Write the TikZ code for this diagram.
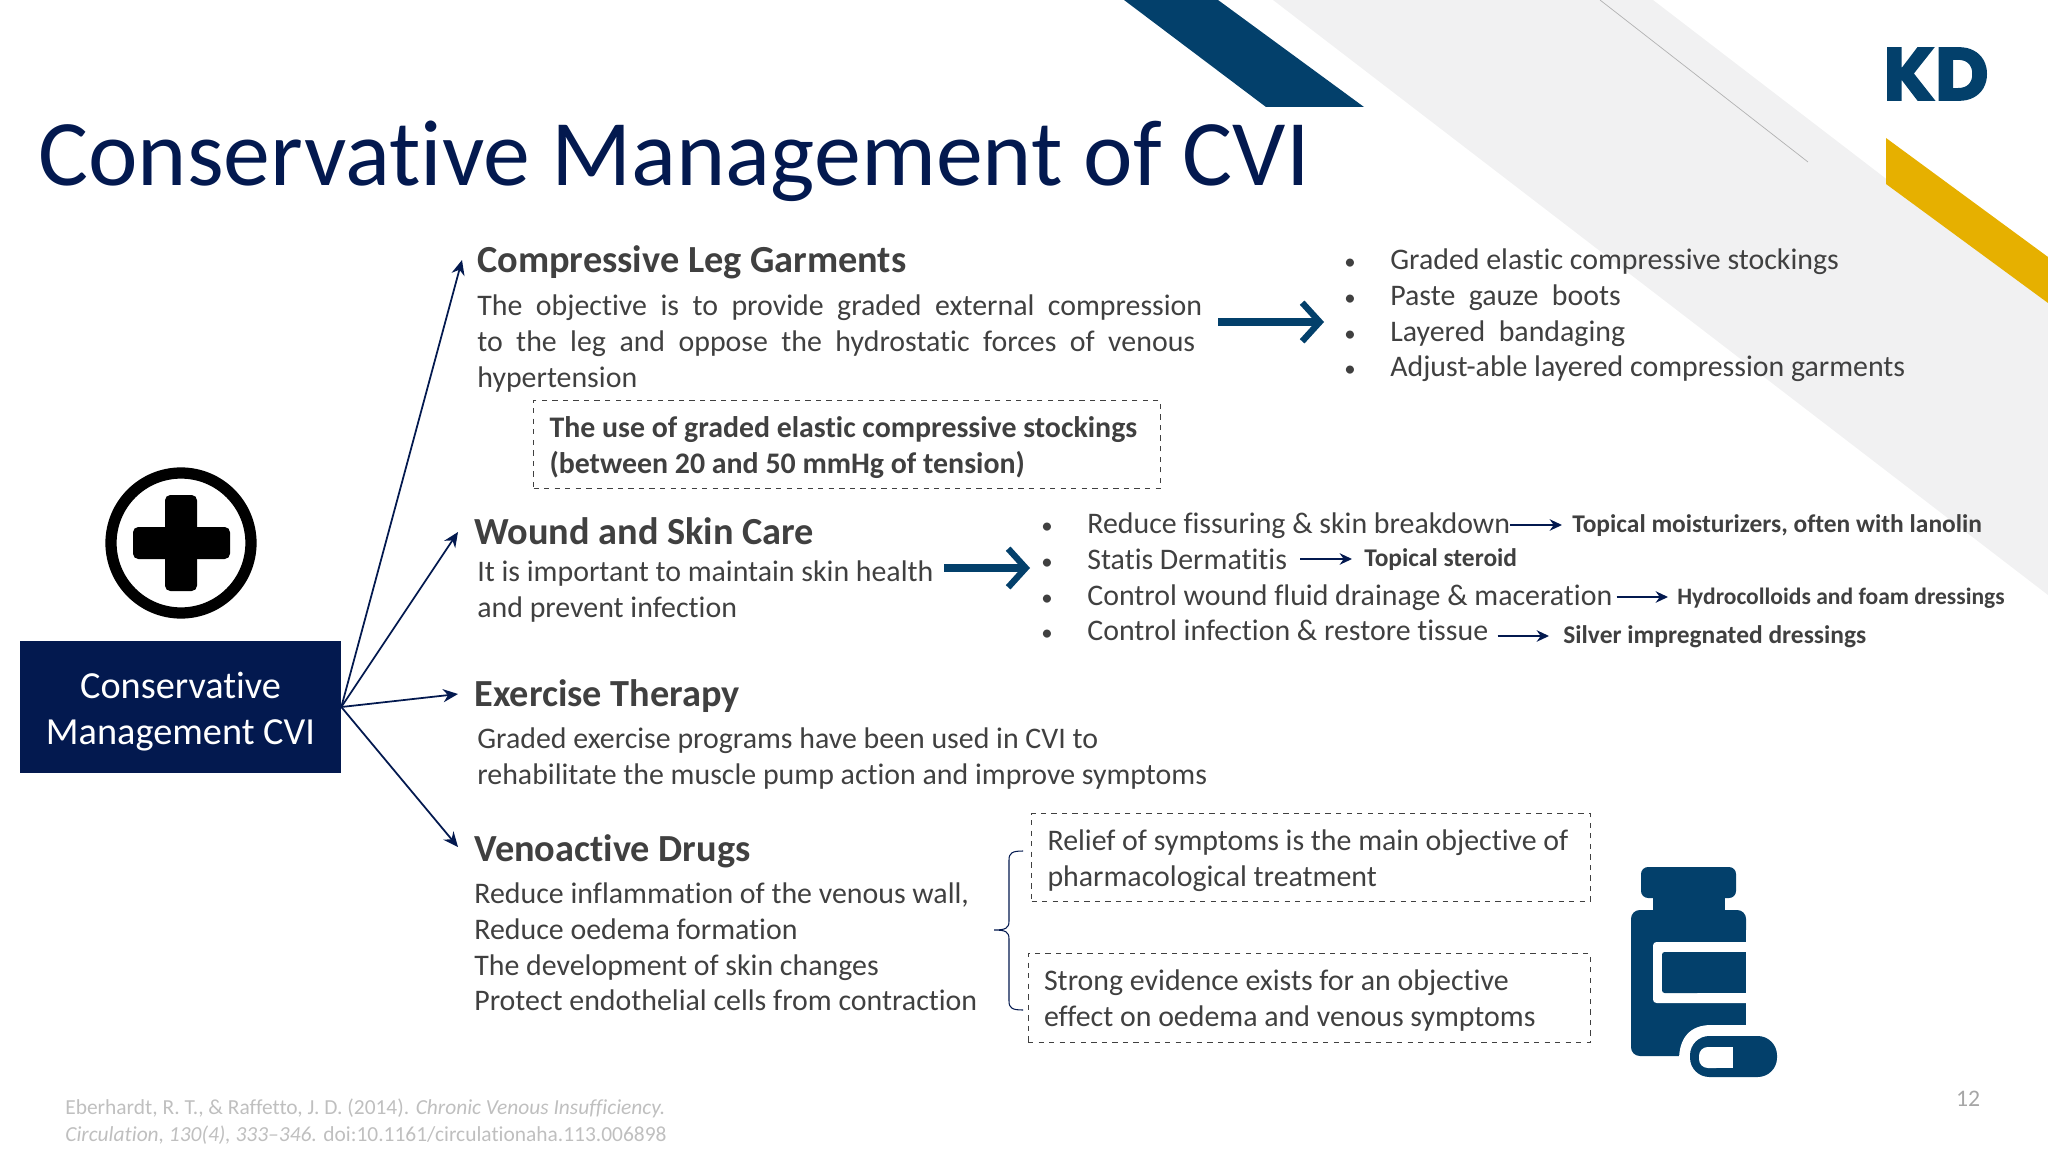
\documentclass[tikz,border=0pt]{standalone}
\usepackage{fontspec}
\setmainfont[Ligatures=NoCommon]{Carlito}
\newfontfamily\logofont[BoldFeatures={FakeBold=2.6}]{Poppins}
\usetikzlibrary{arrows.meta}

\definecolor{navy}{HTML}{03194F}
\definecolor{steel}{HTML}{03406B}
\definecolor{gold}{HTML}{E6B000}
\definecolor{band}{HTML}{F1F1F2}
\definecolor{ink}{HTML}{404040}
\definecolor{faint}{HTML}{BFBFBF}

\newcommand{\spreadline}[2]{\makebox[#1][s]{#2}}
\newcommand{\dotrow}[1]{\makebox[0.92cm][l]{\fontsize{13}{13}\selectfont\textbullet}#1}
\newcommand{\boxlead}{\rule{0pt}{15pt}}

\tikzset{
    slidetitle/.style={anchor=base west, inner sep=0pt, text=navy, font=\fontsize{53.4}{60}\selectfont},
    heading/.style={anchor=west, inner sep=0pt, text=ink, text height=14pt, text depth=4pt, font=\fontsize{21.8}{26}\selectfont\bfseries},
    bodytext/.style={anchor=north west, inner sep=0pt, align=left, text=ink, font=\fontsize{17}{20.4}\selectfont},
    itemtext/.style={anchor=west, inner sep=0pt, text=ink, text height=14pt, text depth=4pt, font=\fontsize{17}{20.4}\selectfont},
    treattext/.style={anchor=west, inner sep=0pt, text=ink, text height=12pt, text depth=4pt, font=\fontsize{14.5}{16}\selectfont\bfseries},
    dashbox/.style={draw=ink, dashed, line width=0.6pt, anchor=north west, inner xsep=0.32cm, inner ysep=0pt, align=flush left, text=ink, font=\fontsize{17}{20.4}\selectfont},
    fanarrow/.style={draw=navy, line width=1pt, -{Stealth[length=8.5pt,width=7.5pt]}},
    smallarrow/.style={draw=navy, line width=1.2pt, -{Stealth[length=7pt,width=6.5pt]}},
    bigarrow/.style={draw=steel, line width=4.4pt, -{Straight Barb[length=10pt,width=22pt,line width=3.6pt]}},
}

\begin{document}
\begin{tikzpicture}[x=0.02cm, y=-0.02cm]
    \useasboundingbox (0,0) rectangle (2048,1152);

    \fill[band] (1273,0) -- (1653,0) -- (2048,303) -- (2048,595) -- cycle;
    \fill[steel] (1124,0) -- (1218,0) -- (1364,107) -- (1266,107) -- cycle;
    \fill[gold] (1886,138) -- (2048,257) -- (2048,303) -- (1886,184) -- cycle;
    \draw[gray!60, line width=0.4pt] (1600,0) -- (1808,162);

    \node[inner sep=0pt, text=steel, font=\logofont\fontsize{42}{42}\selectfont\bfseries] (logo) at (1936,74) {KD};
    \node[slidetitle] (title) at (38,186) {Conservative Management of CVI};

    \node[draw=black, line width=6.4pt, circle, minimum size=2.8cm, inner sep=0pt] (cross) at (181,543) {};
    \fill[black, rounded corners=3pt] (165,495) rectangle (197,591);
    \fill[black, rounded corners=3pt] (133,527) rectangle (230,559);

    \node[fill=navy, minimum width=6.42cm, minimum height=2.64cm, inner sep=0pt, align=center, text=white,
          font=\fontsize{21.8}{26}\selectfont] (root) at (180.5,707) {\rule{0pt}{20pt}Conservative\\Management CVI};

    \node[heading] (compress) at (477,264) {Compressive Leg Garments};
    \node[heading] (wound) at (474,536) {Wound and Skin Care};
    \node[heading] (exercise) at (474,698) {Exercise Therapy};
    \node[heading] (drugs) at (474,853) {Venoactive Drugs};

    \draw[fanarrow] (root.east) -- ([xshift=-0.3cm,yshift=0.08cm]compress.west);
    \draw[fanarrow] (root.east) -- ([xshift=-0.32cm,yshift=0.08cm]wound.west);
    \draw[fanarrow] (root.east) -- ([xshift=-0.32cm,yshift=0.08cm]exercise.west);
    \draw[fanarrow] (root.east) -- ([xshift=-0.32cm,yshift=0.12cm]drugs.west);

    \node[bodytext] (compresstext) at (477,290) {\strut\spreadline{14.5cm}{The objective is to provide graded external compression}\\
        \spreadline{14.36cm}{to the leg and oppose the hydrostatic forces of venous}\\hypertension};
    \node[dashbox, text width=11.9cm, minimum height=1.76cm, font=\fontsize{17}{20.4}\selectfont\bfseries] (stockingbox) at (533,400)
        {\boxlead\mbox{The use of graded elastic compressive stockings}\\\mbox{(between 20 and 50 mmHg of tension)}};
    \node[bodytext] (garments) at (1344,244) {\strut\dotrow{Graded elastic compressive stockings}\\
        \dotrow{Paste\ \ gauze\ \ boots}\\
        \dotrow{Layered\ \ bandaging}\\
        \dotrow{Adjust-able layered compression garments}};
    \coordinate (garmentstart) at (1218,322);
    \draw[bigarrow, shorten >=0.4cm] (garmentstart) -- (garments.west |- garmentstart);

    \node[bodytext] (woundtext) at (477,556) {\strut It is important to maintain skin health\\and prevent infection};

    \node[itemtext] (item1) at (1041,525) {\dotrow{Reduce fissuring \& skin breakdown}};
    \node[itemtext] (item2) at (1041,561) {\dotrow{Statis Dermatitis}};
    \node[itemtext] (item3) at (1041,597) {\dotrow{Control wound fluid drainage \& maceration}};
    \node[itemtext] (item4) at (1041,632) {\dotrow{Control infection \& restore tissue}};

    \node[treattext] (treat1) at (1572,525) {Topical moisturizers, often with lanolin};
    \node[treattext] (treat2) at (1364,559) {Topical steroid};
    \node[treattext, font=\fontsize{13.4}{16}\selectfont\bfseries] (treat3) at (1677,597) {Hydrocolloids and foam dressings};
    \node[treattext] (treat4) at (1563,636) {Silver impregnated dressings};

    \draw[smallarrow, shorten >=0.2cm] (item1.east |- treat1.west) -- (treat1.west);
    \draw[smallarrow, shorten <=0.26cm, shorten >=0.24cm] (item2.east |- treat2.west) -- (treat2.west);
    \draw[smallarrow, shorten <=0.08cm, shorten >=0.18cm] (item3.east |- treat3.west) -- (treat3.west);
    \draw[smallarrow, shorten <=0.18cm, shorten >=0.28cm] (item4.east |- treat4.west) -- (treat4.west);

    \coordinate (woundstart) at (944,568);
    \draw[bigarrow, shorten >=0.22cm] (woundstart) -- (item1.west |- woundstart);

    \node[bodytext] (exercisetext) at (477,723) {\strut Graded exercise programs have been used in CVI to\\
        rehabilitate the muscle pump action and improve symptoms};

    \node[bodytext] (drugstext) at (474,878) {\strut Reduce inflammation of the venous wall,\\
        Reduce oedema formation\\
        The development of skin changes\\
        Protect endothelial cells from contraction};

    \node[dashbox, text width=10.54cm, minimum height=1.76cm] (reliefbox) at (1031,813)
        {\boxlead\mbox{Relief of symptoms is the main objective of}\\\mbox{pharmacological treatment}};
    \node[dashbox, text width=10.61cm, minimum height=1.78cm] (evidencebox) at (1027.5,953)
        {\boxlead\mbox{Strong evidence exists for an objective}\\\mbox{effect on oedema and venous symptoms}};

    \coordinate (bracehigh) at (1023,851);
    \coordinate (braceside) at (994,930);
    \coordinate (bracelow) at (1023,1010);
    \draw[navy, line width=0.6pt] (bracehigh) .. controls (1012,851) and (1009,853) .. (1009,860) -- (1009,921)
        .. controls (1009,928) and (1006,930) .. (braceside) .. controls (1006,930) and (1009,932) .. (1009,939)
        -- (1009,1001) .. controls (1009,1008) and (1012,1010) .. (bracelow);

    \fill[steel, rounded corners=4pt] (1641,867) rectangle (1736,898);
    \fill[steel] (1653,895) rectangle (1725,912);
    \fill[steel, rounded corners=5pt] (1631,910) rectangle (1746,1056);
    \fill[white] (1679,1060) .. controls (1679,1038) and (1690,1025) .. (1711,1025) -- (1750,1025) -- (1750,1060) -- cycle;
    \fill[white, rounded corners=2pt] (1653,942) rectangle (1760,1003);
    \fill[white] (1746,930) rectangle (1760,1030);
    \fill[steel, rounded corners=1.5pt] (1662,952) rectangle (1700,993);
    \fill[steel] (1680,952) rectangle (1746,993);
    \fill[steel, rounded corners=11pt] (1690,1036) rectangle (1777,1077);
    \fill[white, rounded corners=5pt] (1699,1047) rectangle (1725,1068);
    \fill[white] (1712,1047) rectangle (1733,1068);

    \node[anchor=north west, inner sep=0pt, align=left, text=faint, font=\fontsize{12.2}{15}\selectfont] (source) at (65,1096)
        {\strut Eberhardt, R. T., \& Raffetto, J. D. (2014). \textit{Chronic Venous Insufficiency.}\\
        \textit{Circulation, 130(4), 333--346.} doi:10.1161/circulationaha.113.006898};
    \node[inner sep=0pt, text=gray!70, font=\fontsize{13.5}{16}\selectfont] (pagenum) at (1968,1099) {12};
\end{tikzpicture}
\end{document}
